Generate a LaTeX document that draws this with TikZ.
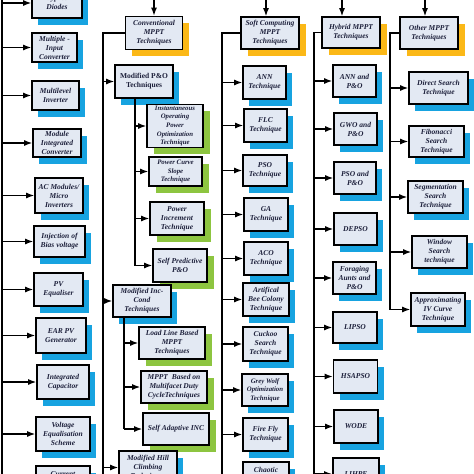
\documentclass[tikz,border=0pt]{standalone}
\usepackage{fontspec}
\setmainfont{Liberation Serif}
\usetikzlibrary{arrows.meta,shadows,calc}
\definecolor{boxfill}{HTML}{E3E9F3}
\definecolor{shblue}{HTML}{17A3E0}
\definecolor{shorange}{HTML}{FBB817}
\definecolor{shgreen}{HTML}{8DC540}
\definecolor{txtcol}{HTML}{1C1F3A}
\tikzset{
    method/.style={
    rectangle,draw=black,line width=1.6pt,fill=boxfill,text=txtcol,align=center,
    inner sep=0pt,font=\fontsize{7.5}{9}\selectfont\bfseries\itshape
    },
    headbox/.style={
    method,drop shadow={shadow xshift=6.5pt,shadow yshift=-6.5pt,fill=shorange,opacity=1}
    },
    subbox/.style={
    method,drop shadow={shadow xshift=6pt,shadow yshift=-6.5pt,fill=shblue,opacity=1}
    },
    leafbox/.style={
    method,drop shadow={shadow xshift=6.5pt,shadow yshift=-6.5pt,fill=shgreen,opacity=1}
    },
    sz/.style 2 args={minimum width=#1pt,minimum height=#2pt},
    smalltext/.style={font=\fontsize{6.8}{8.6}\selectfont\bfseries\itshape},
    trunk/.style={draw=black,line width=1.4pt},
    arr/.style={trunk,-{Latex[length=8pt,width=6pt]}},
    fan/.style={every edge/.style={arr}},
}
\begin{document}
\begin{tikzpicture}[x=1pt,y=-1pt]
  \useasboundingbox (0,0) rectangle (474,474);
  \clip (0,0) rectangle (474,474);

  % headers
  \node[headbox,sz={57}{33}] (conv)  at (154,33) {Conventional\\MPPT\\Techniques};
  \node[headbox,sz={58}{32}] (soft)  at (270,33) {Soft Computing\\MPPT\\Techniques};
  \node[headbox,sz={58}{31}] (hyb)   at (351,32.5) {Hybrid MPPT\\Techniques};
  \node[headbox,sz={58}{32}] (other) at (429,33) {Other MPPT\\Techniques};

  % column 1
  \node[subbox,sz={50}{30}] (bypass)  at (57,3)      {Bypass\\Diodes};
  \node[subbox,sz={45}{29}] (multin)  at (54.5,47.5) {Multiple -\\Input\\Converter};
  \node[subbox,sz={47}{29}] (multlev) at (55.5,95.5) {Multilevel\\Inverter};
  \node[subbox,sz={48}{28}] (modint)  at (57,143)    {Module\\Integrated\\Converter};
  \node[subbox,sz={48}{35}] (acmod)   at (59,195.5)  {AC Modules/\\Micro\\Inverters};
  \node[subbox,sz={51}{31}] (bias)    at (59.5,241.5) {Injection of\\Bias voltage};
  \node[subbox,sz={49}{33}] (pveq)    at (58.5,289.5) {PV\\Equaliser};
  \node[subbox,sz={50}{35}] (earpv)   at (61,335.5)  {EAR PV\\Generator};
  \node[subbox,sz={52}{34}] (intcap)  at (63,382)    {Integrated\\Capacitor};
  \node[subbox,sz={54}{34}] (volteq)  at (63,434)    {Voltage\\Equalisation\\Scheme};
  \node[subbox,sz={54}{34}] (curinj)  at (63,483)    {Current\\\mbox{}\\\mbox{}};

  % column 2
  \node[subbox,sz={58}{33},font=\fontsize{7.5}{9}\selectfont\bfseries] (modpo) at (144,81.5) {Modified P\&O\\Techniques};
  \node[leafbox,smalltext,sz={56}{43}] (inst) at (175,126) {Instantaneous\\Operating\\Power\\Optimization\\Technique};
  \node[leafbox,smalltext,sz={53}{29}] (pcs)  at (175.5,171.5) {Power Curve\\Slope\\Technique};
  \node[leafbox,sz={54}{33}] (pinc) at (177,218.5) {Power\\Increment\\Technique};
  \node[leafbox,sz={54}{33}] (spo)  at (180,265.5) {Self Predictive\\P\&O};
  \node[subbox,sz={58}{32}] (modinc) at (142,301) {Modified Inc-\\Cond\\Techniques};
  \node[leafbox,sz={66}{32}] (llb) at (172,343) {Load Line Based\\MPPT\\Techniques};
  \node[leafbox,sz={66}{32}] (mfd) at (174,387) {MPPT~ Based on\\Multifacet Duty\\CycleTechniques};
  \node[leafbox,sz={66}{32}] (sai) at (176,429) {Self Adaptive INC};
  \node[subbox,sz={58}{33}] (mhc) at (148,467.5) {Modified Hill\\Climbing\\Techniques};

  % column 3
  \node[subbox,sz={43}{33}] (ann)   at (264.5,82.5) {ANN\\Technique};
  \node[subbox,sz={43}{33}] (flc)   at (265.5,125.5) {FLC\\Technique};
  \node[subbox,sz={44}{31}] (pso)   at (265,170.5) {PSO\\Technique};
  \node[subbox,sz={44}{33}] (ga)    at (266,214.5) {GA\\Technique};
  \node[subbox,sz={44}{33}] (aco)   at (266,258.5) {ACO\\Technique};
  \node[subbox,sz={46}{33}] (abc)   at (266,299.5) {Artifical\\Bee Colony\\Technique};
  \node[subbox,sz={45}{34}] (cuckoo) at (265.5,344) {Cuckoo\\Search\\Technique};
  \node[subbox,smalltext,sz={46}{32}] (gwo) at (265,390) {Grey Wolf\\Optimization\\Technique};
  \node[subbox,sz={45}{33}] (ffly)  at (265.5,434.5) {Fire Fly\\Technique};
  \node[subbox,sz={46}{34}] (chaos) at (266,479) {Chaotic\\\mbox{}\\\mbox{}};

  % column 4
  \node[subbox,sz={43}{32}] (annpo)  at (354.5,81)  {ANN and\\P\&O};
  \node[subbox,sz={43}{32}] (gwopo)  at (355.5,129) {GWO and\\P\&O};
  \node[subbox,sz={42}{32}] (psopo)  at (355,178)   {PSO and\\P\&O};
  \node[subbox,sz={43}{32}] (depso)  at (355.5,229) {DEPSO};
  \node[subbox,sz={43}{32}] (fapo)   at (354.5,278) {Foraging\\Aunts and\\P\&O};
  \node[subbox,sz={44}{31}] (lipso)  at (355,327.5) {LIPSO};
  \node[subbox,sz={44}{33}] (hsapso) at (355.5,376.5) {HSAPSO};
  \node[subbox,sz={44}{33}] (wode)   at (356,426.5) {WODE};
  \node[subbox,sz={46}{32}] (lihpe)  at (356,474)   {LIHPE};

  % column 5
  \node[subbox,sz={59}{32}] (dst) at (438.5,88)  {Direct Search\\Technique};
  \node[subbox,sz={55}{31}] (fib) at (436.5,141.5) {Fibonacci\\Search\\Technique};
  \node[subbox,sz={55}{32}] (seg) at (435.5,197) {Segmentation\\Search\\Technique};
  \node[subbox,sz={55}{32}] (win) at (439.5,252) {Window\\Search\\technique};
  \node[subbox,sz={54}{33}] (aiv) at (438,309.5) {Approximating\\IV Curve\\Technique};

  % feeds from above
  \coordinate (convin)  at (154,-5);
  \coordinate (softin)  at (266,-5);
  \coordinate (hybin)   at (342,-5);
  \coordinate (otherin) at (425,-5);
  \draw[arr] (convin) -- (convin |- conv.north);
  \draw[arr] (softin) -- (softin |- soft.north);
  \draw[arr] (hybin) -- (hybin |- hyb.north);
  \draw[arr] (otherin) -- (otherin |- other.north);

  % trunk 1
  \coordinate (t1a) at (2,-10);
  \coordinate (t1) at (2,490);
  \draw[trunk] (t1a) -- (t1);
  \path[fan] (t1 |- bypass.west) edge (bypass.west)
             (t1 |- multin.west) edge (multin.west)
             (t1 |- multlev.west) edge (multlev.west)
             (t1 |- modint.west) edge (modint.west)
             (t1 |- acmod.west) edge (acmod.west)
             (t1 |- bias.west) edge (bias.west)
             (t1 |- pveq.west) edge (pveq.west)
             (t1 |- earpv.west) edge (earpv.west)
             (t1 |- intcap.west) edge (intcap.west)
             (t1 |- volteq.west) edge (volteq.west)
             (t1 |- curinj.west) edge (curinj.west);

  % trunk 2
  \coordinate (t2) at (103,490);
  \draw[trunk] (conv.west) -| (t2);
  \path[fan] (t2 |- modpo.west) edge (modpo.west)
             (t2 |- modinc.west) edge (modinc.west)
             (t2 |- mhc.west) edge (mhc.west);
  \coordinate (s1) at (135,0);
  \draw[trunk] (s1 |- modpo.south) -- (s1 |- spo.west);
  \path[fan] (s1 |- inst.west) edge (inst.west)
             (s1 |- pcs.west) edge (pcs.west)
             (s1 |- pinc.west) edge (pinc.west)
             (s1 |- spo.west) edge (spo.west);
  \coordinate (s2) at (124,0);
  \draw[trunk] (s2 |- modinc.south) -- (s2 |- sai.west);
  \path[fan] (s2 |- llb.west) edge (llb.west)
             (s2 |- mfd.west) edge (mfd.west)
             (s2 |- sai.west) edge (sai.west);

  % trunk 3
  \coordinate (t3) at (222,490);
  \draw[trunk] (soft.west) -| (t3);
  \path[fan] (t3 |- ann.west) edge (ann.west)
             (t3 |- flc.west) edge (flc.west)
             (t3 |- pso.west) edge (pso.west)
             (t3 |- ga.west) edge (ga.west)
             (t3 |- aco.west) edge (aco.west)
             (t3 |- abc.west) edge (abc.west)
             (t3 |- cuckoo.west) edge (cuckoo.west)
             (t3 |- gwo.west) edge (gwo.west)
             (t3 |- ffly.west) edge (ffly.west)
             (t3 |- chaos.west) edge (chaos.west);

  % trunk 4
  \coordinate (t4) at (314,490);
  \draw[trunk] (hyb.west) -| (t4);
  \path[fan] (t4 |- annpo.west) edge (annpo.west)
             (t4 |- gwopo.west) edge (gwopo.west)
             (t4 |- psopo.west) edge (psopo.west)
             (t4 |- depso.west) edge (depso.west)
             (t4 |- fapo.west) edge (fapo.west)
             (t4 |- lipso.west) edge (lipso.west)
             (t4 |- hsapso.west) edge (hsapso.west)
             (t4 |- wode.west) edge (wode.west)
             (t4 |- lihpe.west) edge (lihpe.west);

  % trunk 5
  \coordinate (t5) at (390,0);
  \draw[arr] (other.west) -| (t5 |- aiv.west) -- (aiv.west);
  \path[fan] (t5 |- dst.west) edge (dst.west)
             (t5 |- fib.west) edge (fib.west)
             (t5 |- seg.west) edge (seg.west)
             (t5 |- win.west) edge (win.west);
\end{tikzpicture}
\end{document}
